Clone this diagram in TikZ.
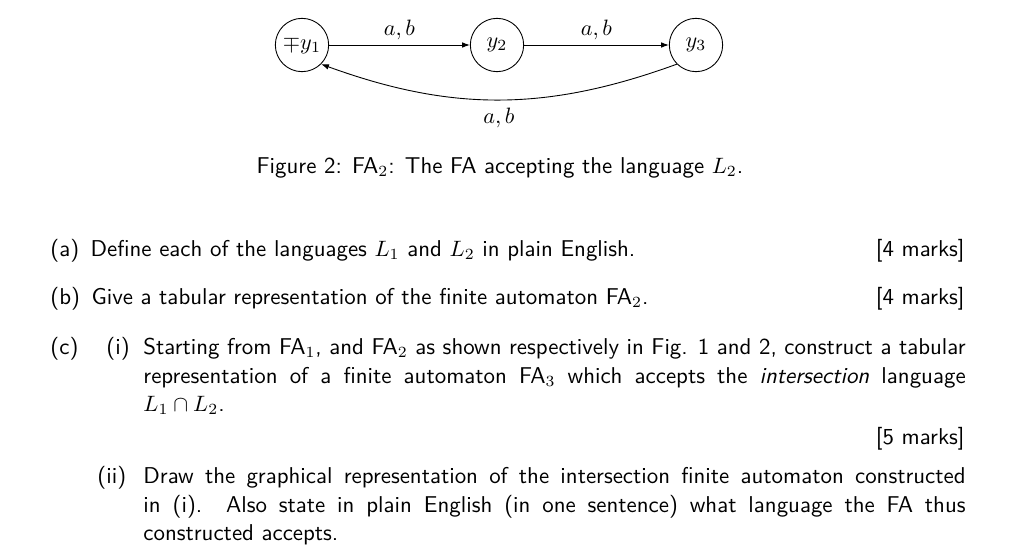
\documentclass[tikz,border=0pt]{standalone}
\usetikzlibrary{arrows.meta}
\renewcommand{\familydefault}{\sfdefault}
\begin{document}
\begin{tikzpicture}[x=0.45pt,y=-0.45pt,
  every node/.style={font=\fontsize{10.3}{12}\selectfont},
  st/.style={draw,circle,minimum size=24pt,inner sep=0pt,line width=0.4pt},
  tr/.style={-{Latex[length=3.5pt,width=2.5pt]},line width=0.4pt},
  ln/.style={anchor=base west,inner sep=0pt},
  lnr/.style={anchor=base east,inner sep=0pt}]
\useasboundingbox (0,0) rectangle (1024,552);
\node[st] (y1) at (302,45) {$\mp y_1$};
\node[st] (y2) at (497,45) {$y_2$};
\node[st] (y3) at (696,45) {$y_3$};
\draw[tr] (y1) -- node[above=-1pt] (l1) {$a,b$} (y2);
\draw[tr] (y2) -- node[above=-1pt] (l2) {$a,b$} (y3);
\draw[tr] (y3.south west) to[bend left=20] node[below=0pt] (l3) {$a,b$} (y1.south east);
\node[anchor=base,inner sep=0pt] (cap) at (500,173) {Figure 2: FA$_2$: The FA accepting the language $L_2$.};
\node[ln] (a) at (50,256) {(a)\enspace Define each of the languages $L_1$ and $L_2$ in plain English.};
\node[lnr] (am) at (965,256) {[4 marks]};
\node[ln] (b) at (50,304) {(b)\enspace Give a tabular representation of the finite automaton FA$_2$.};
\node[lnr] (bm) at (965,304) {[4 marks]};
\node[ln] (c) at (50,354) {(c)};
\node[ln] (ci) at (106,354) {(i)};
\node[ln] (c1) at (143,354) {\hbox to 370pt{Starting from FA$_1$, and FA$_2$ as shown respectively in Fig. 1 and 2, construct a tabular}};
\node[ln] (c2) at (143,383) {\hbox to 370pt{representation of a finite automaton FA$_3$ which accepts the \textit{intersection} language}};
\node[ln] (c3) at (143,411) {$L_1\cap L_2$.};
\node[lnr] (cm) at (965,444) {[5 marks]};
\node[ln] (cii) at (97,483) {(ii)};
\node[ln] (d1) at (143,483) {\hbox to 370pt{Draw the graphical representation of the intersection finite automaton constructed}};
\node[ln] (d2) at (143,512) {\hbox to 370pt{in (i).\ \ Also state in plain English (in one sentence) what language the FA thus}};
\node[ln] (d3) at (143,540) {constructed accepts.};
\end{tikzpicture}
\end{document}
